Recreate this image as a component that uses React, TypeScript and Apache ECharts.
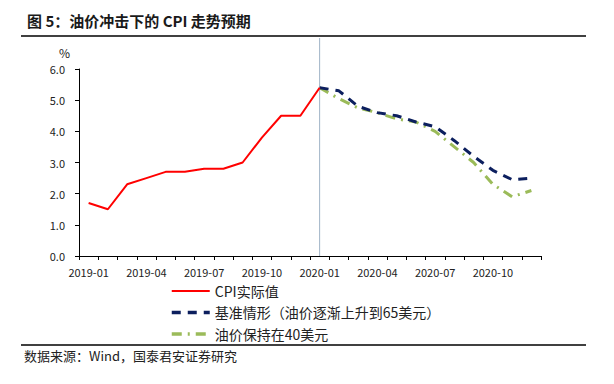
import React, { useEffect, useRef } from "react";
import * as echarts from "echarts";

const months = [
  "2019-01", "2019-02", "2019-03", "2019-04", "2019-05", "2019-06",
  "2019-07", "2019-08", "2019-09", "2019-10", "2019-11", "2019-12",
  "2020-01", "2020-02", "2020-03", "2020-04", "2020-05", "2020-06",
  "2020-07", "2020-08", "2020-09", "2020-10", "2020-11", "2020-12",
];
const cpiActual = [1.7, 1.5, 2.3, 2.5, 2.7, 2.7, 2.8, 2.8, 3.0, 3.8, 4.5, 4.5, 5.4,
  null, null, null, null, null, null, null, null, null, null, null];
const baseline = [null, null, null, null, null, null, null, null, null, null, null, null,
  5.4, 5.3, 4.8, 4.6, 4.5, 4.3, 4.15, 3.7, 3.2, 2.75, 2.45, 2.5];
const oil40 = [null, null, null, null, null, null, null, null, null, null, null, null,
  5.4, 5.05, 4.75, 4.6, 4.4, 4.3, 4.0, 3.5, 3.0, 2.3, 1.9, 2.1];
const seriesNames = ["CPI实际值", "基准情形（油价逐渐上升到65美元）", "油价保持在40美元"];
const splitMonth = "2020-01";
const titleText = "图 5：油价冲击下的 CPI 走势预期";
const sourceText = "数据来源：Wind，国泰君安证券研究";

const FONT = "'Noto Sans CJK SC', 'Noto Sans', sans-serif";

export default function App() {
  const ref = useRef<HTMLDivElement>(null);
  useEffect(() => {
    if (!ref.current) return;
    const chart = echarts.init(ref.current, null, { renderer: "svg" });
    const option: any = {
      animation: false,
      backgroundColor: "#ffffff",
      textStyle: { fontFamily: FONT },
      title: {
        text: titleText,
        left: 22,
        top: 8,
        textStyle: { fontSize: 15, fontWeight: "bold", color: "#1a1a1a", fontFamily: FONT },
      },
      grid: { left: 79, top: 69, width: 462, height: 187, containLabel: false },
      legend: {
        orient: "vertical",
        left: 165,
        top: 279,
        itemWidth: 38,
        itemHeight: 14,
        itemGap: 7.5,
        itemStyle: { opacity: 0 },
        textStyle: { fontSize: 14, color: "#222", fontFamily: FONT },
        data: [
          { name: seriesNames[0], lineStyle: { width: 2 } },
          { name: seriesNames[1], lineStyle: { width: 3.5 } },
          { name: seriesNames[2], lineStyle: { width: 3.5 } },
        ],
      },
      xAxis: {
        type: "category",
        data: months,
        boundaryGap: true,
        axisLine: { lineStyle: { color: "#000", width: 1 } },
        axisTick: { show: true, interval: 0, length: 4, lineStyle: { color: "#000" } },
        axisLabel: { interval: 2, fontSize: 11, color: "#222", margin: 10, fontFamily: FONT },
        splitLine: { show: false },
      },
      yAxis: {
        type: "value",
        min: 0,
        max: 6,
        interval: 1,
        name: "%",
        nameLocation: "end",
        nameGap: 11,
        nameTextStyle: { fontSize: 12, color: "#222", align: "right", padding: [0, 9, 0, 0] },
        axisLine: { show: true, lineStyle: { color: "#000", width: 1 } },
        axisTick: { show: true, length: 4, lineStyle: { color: "#000" } },
        axisLabel: {
          fontSize: 11, color: "#222", margin: 14, fontFamily: FONT,
          formatter: (v: number) => v.toFixed(1),
        },
        splitLine: { show: false },
      },
      series: [
        {
          name: seriesNames[0],
          type: "line",
          data: cpiActual,
          symbol: "none",
          z: 4,
          lineStyle: { color: "#ff0000", width: 2 },
          itemStyle: { color: "#ff0000" },
        },
        {
          name: seriesNames[1],
          type: "line",
          data: baseline,
          symbol: "none",
          z: 3,
          lineStyle: { color: "#0c1f5e", width: 3, type: [9, 7], cap: "butt" },
          itemStyle: { color: "#0c1f5e" },
        },
        {
          name: seriesNames[2],
          type: "line",
          data: oil40,
          symbol: "none",
          z: 2,
          lineStyle: { color: "#9bbb59", width: 3, type: [10, 6, 2, 6], cap: "butt" },
          itemStyle: { color: "#9bbb59" },
        },
      ],
    };
    chart.setOption(option);

    const xSplit = chart.convertToPixel({ xAxisIndex: 0 }, splitMonth) as number;
    const yBottom = chart.convertToPixel({ yAxisIndex: 0 }, 0) as number;
    chart.setOption({
      graphic: [
        {
          type: "line",
          z: 1,
          shape: { x1: xSplit, y1: 38, x2: xSplit, y2: yBottom },
          style: { stroke: "#9fb3c6", lineWidth: 1 },
        },
        {
          type: "line",
          shape: { x1: 21, y1: 36, x2: 586, y2: 36 },
          style: { stroke: "#000", lineWidth: 1.5 },
        },
        {
          type: "line",
          shape: { x1: 21, y1: 345, x2: 586, y2: 345 },
          style: { stroke: "#000", lineWidth: 1.5 },
        },
        {
          type: "text",
          left: 24,
          top: 349,
          style: { text: sourceText, fontSize: 13, fill: "#222", fontFamily: FONT },
        },
      ],
    });
    return () => chart.dispose();
  }, []);
  return (
    <div
      ref={ref}
      style={{ position: "fixed", left: 0, top: 0, width: 614, height: 384 }}
    />
  );
}
